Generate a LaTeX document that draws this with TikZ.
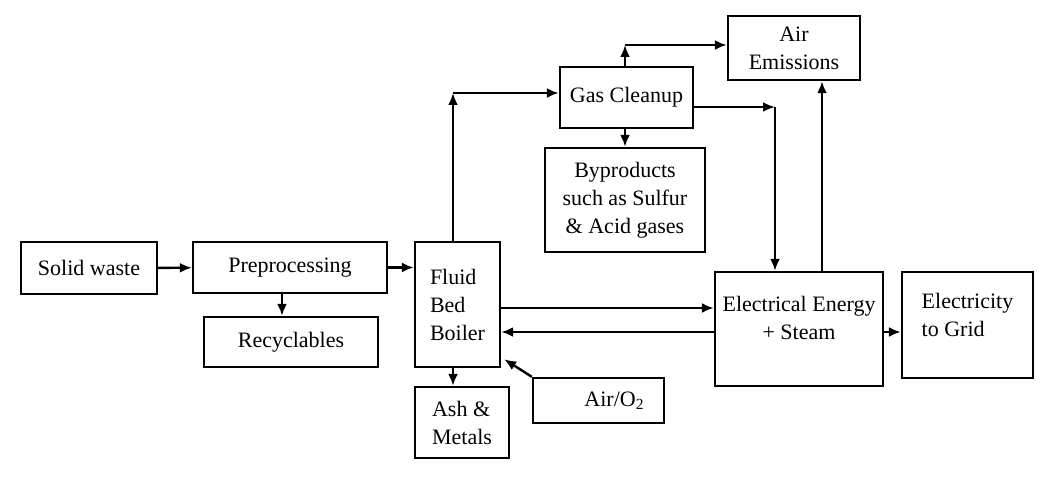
\documentclass[tikz,border=0pt]{standalone}
\usepackage{fontspec}
\setmainfont{Liberation Serif}
\usetikzlibrary{arrows.meta}

\begin{document}
\begin{tikzpicture}[
    >={Latex[length=12pt,width=10pt]},
    x=1pt,
    y=-1pt,
    line width=2.4pt,
    every node/.style={font=\fontsize{22}{28}\selectfont},
    box/.style={draw, line width=2.4pt, inner sep=0pt, align=center}
]
\useasboundingbox (0,0) rectangle (1043,492);

% feed line
\node[box, minimum width=136pt, minimum height=52pt] (waste) at (89,268) {Solid waste};
\node[box, minimum width=194pt, minimum height=51pt] (prep) at (290,267.5) {Preprocessing};
\node[box, minimum width=174pt, minimum height=50pt] (recyc) at (291,342) {Recyclables};

% boiler
\node[box, align=left, minimum width=85pt, minimum height=125pt] (boiler) at (457.5,304.5) {Fluid\\Bed\\Boiler};
\node[box, align=left, minimum width=94pt, minimum height=71pt] (ash) at (462,422.5) {Ash \&\\Metals};
\node[box, align=right, text width=91pt, inner xsep=20pt, minimum height=45pt] (air) at (598.5,400.5) {Air/O\textsubscript{2}};

% gas path
\node[box, minimum width=133pt, minimum height=61pt] (gas) at (626.5,97.5) {Gas Cleanup};
\node[box, minimum width=160pt, minimum height=104pt] (byprod) at (625,200) {Byproducts\\such as Sulfur\\\& Acid gases};
\node[box, minimum width=132pt, minimum height=64pt] (emis) at (794,48) {Air\\Emissions};

% energy
\node[box, text depth=23pt, minimum width=168pt, minimum height=114pt] (energy) at (799,329) {Electrical Energy\\+ Steam};
\node[box, align=left, text depth=21pt, minimum width=131pt, minimum height=106pt] (grid) at (967.5,325) {Electricity\\to Grid};

% bends
\coordinate (boilup) at (453,93);
\coordinate (gasup) at (625,45);
\coordinate (gasturn) at (775,107);
\coordinate (emisdn) at (822,200);
\coordinate (toenergy) at (480,308);
\coordinate (fromenergy) at (480,332);
\coordinate (togrid) at (890,332);
\coordinate (recycdn) at (282,300);

% connectors
\draw[->] (waste) -- (prep);
\draw[->] (prep.east) -- (prep.east -| boiler.west);
\draw[->] (prep.south -| recycdn) -- (recyc.north -| recycdn);

\draw[->] (boiler.north -| boilup) -- (boilup);
\draw[->] (boilup) -- (boilup -| gas.west);
\draw[->] (gas.north -| gasup) -- (gasup);
\draw[->] (gasup) -- (gasup -| emis.west);
\draw[->] (gas.south -| gasup) -- (byprod.north -| gasup);
\draw[->] (gas.east |- gasturn) -- (gasturn);
\draw[->] (gasturn) -- (gasturn |- energy.north);
\draw[->] (energy.north -| emisdn) -- (emis.south -| emisdn);

\draw[->] (boiler.east |- toenergy) -- (energy.west |- toenergy);
\draw[->] (energy.west |- fromenergy) -- (boiler.east |- fromenergy);
\draw[->] (energy.east |- togrid) -- (grid.west |- togrid);

\draw[->] (boiler.south -| boilup) -- (ash.north -| boilup);
\draw[->] (air.north west) -- ([xshift=3pt,yshift=9pt]boiler.south east);

\end{tikzpicture}
\end{document}
